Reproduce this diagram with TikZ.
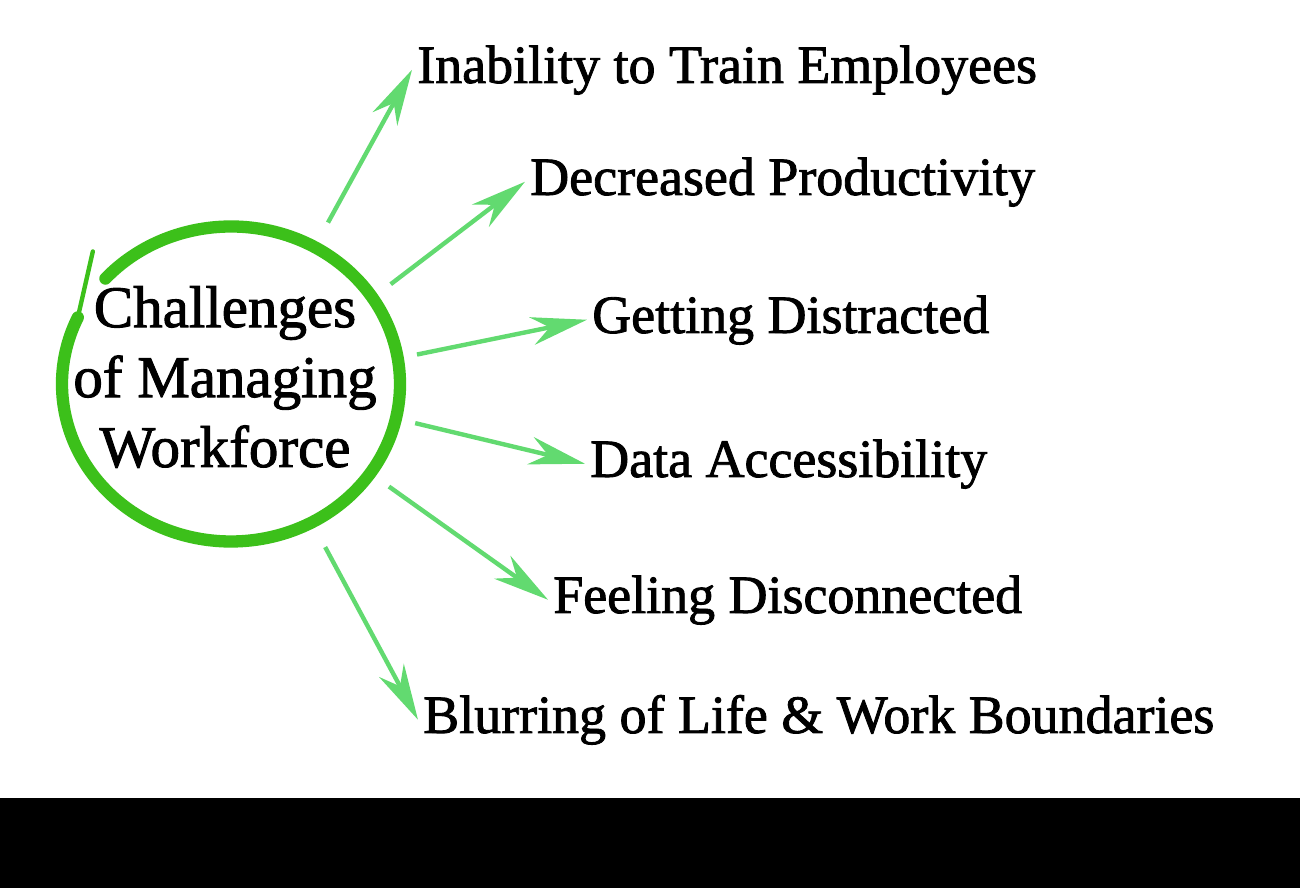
\documentclass[tikz,border=0pt]{standalone}
\usepackage{fontspec}
\setmainfont{Liberation Serif}[FakeBold=1.6]
\usetikzlibrary{arrows.meta}

\definecolor{ringgreen}{RGB}{60,192,26}
\definecolor{arrowgreen}{RGB}{98,218,112}

\tikzstyle{hub}=[circle,minimum size=7.52cm,inner sep=0pt]
\tikzstyle{title}=[align=center,inner sep=0pt,font=\fontsize{33.6}{39.8}\selectfont]
\tikzstyle{item}=[anchor=base west,inner sep=0pt,outer sep=3pt,text height=0.8cm,text depth=0.27cm,font=\fontsize{30.7}{36}\selectfont]
\tikzstyle{ring}=[draw=ringgreen,line width=7pt,line cap=round]
\tikzstyle{arrow}=[draw=arrowgreen,line width=2.5pt,-{Stealth[length=1.12cm,width=0.56cm,inset=0.36cm]}]
\newcommand{\pxunit}{0.02cm}

\begin{document}
\begin{tikzpicture}[x=\pxunit, y=\pxunit]
    \useasboundingbox (0,0) rectangle (1300,888);
    % bottom strip
    \fill[black] (0,0) rectangle (1300,90);
    % The centre: invisible hub, its title and the hand drawn ring
    \node[hub] (hub) at (231,504) {};
    \node[title] (title) at ([xshift=-0.12cm,yshift=0.14cm]hub.center) {Challenges\\of Managing\\Workforce};
    \draw[ring] (hub.center) ++(138:169 and 157.5)
        arc[start angle=138, end angle=-205, x radius=169, y radius=157.5];
    \draw[ring, line width=2.5pt] (hub.center) ++(-205:169 and 157.5) -- ++(15,66);
    % The challenges
    \foreach \pos/\name/\label in {{(412,805)/t1/Inability to Train Employees},
        {(525,693)/t2/Decreased Productivity}, {(587,555)/t3/Getting Distracted},
        {(585,411)/t4/Data Accessibility}, {(548,275)/t5/Feeling Disconnected},
        {(418,155)/t6/Blurring of Life \& Work Boundaries}}
        \node[item] (\name) at \pos {\label};
    % Arrows from the hub to each challenge
    \foreach \angle/\dest in {59.6/t1, 32.4/t2, 9/t3, -12.7/t4, -33.6/t5, -60.5/t6}
        \path[arrow] (hub.\angle) -- (\dest.west);
\end{tikzpicture}
\end{document}
